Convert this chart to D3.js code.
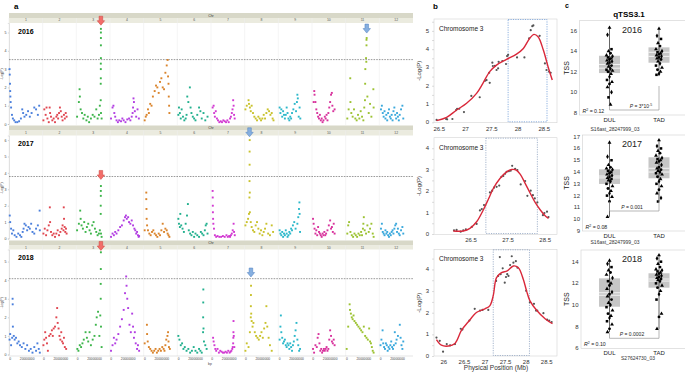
<!DOCTYPE html>
<html><head><meta charset="utf-8">
<script src="https://cdn.jsdelivr.net/npm/d3@7"></script>
<style>body{margin:0;background:#fff}svg{display:block}text{font-family:"Liberation Sans",Arial,sans-serif}</style>
</head><body><svg id="fig" width="685" height="373"></svg>
<script>
// ---- panel a: manhattan data, [position Mb, -log10 P] per chromosome
const chroms = ["1","2","3","4","5","6","7","8","9","10","11","12"];
const chrColors = ["#4a7fdc","#e04650","#3db54b","#b23ee2","#da842c","#22b08e","#d23ad2","#c9c22c","#2cb8ca","#d8329c","#9cc232","#3aa8dc"];
const mh2016 = [
 [[0.3,3.0],[0.5,2.7],[0.8,2.2],[1,1.8],[1.2,1.5],[1.5,1.2],[2,0.9],[3,0.5],[4,0.3],[5.5,0.2],[7,0.1],[9,0.1],[11,0.15],[13,0.3],[14.5,0.8],[15.5,0.6],[17,0.4],[19,0.5],[21,0.7],[23,0.4],[25,0.6],[28,0.9],[30,0.8],[32,0.5],[33.5,1.0]],
 [[0.5,0.2],[1.5,0.8],[3,0.5],[4,0.9],[5,0.3],[6.5,0.1],[7.5,0.9],[8,0.6],[9,0.4],[10.5,0.2],[12,0.3],[13.5,0.1],[15,0.4],[16,0.5],[17,0.3],[18,0.6],[19,0.9],[20,0.7],[21,0.4],[22,0.2],[23.5,0.5],[24.5,0.3],[25.5,0.6],[26.5,0.4]],
 [[0.5,0.4],[2.5,1.2],[3.3,1.9],[3.6,1.5],[4.5,0.8],[6,0.6],[7.5,0.3],[9,0.5],[11,0.2],[12.5,0.4],[14,0.1],[16,0.3],[18,0.5],[20,0.4],[22,0.8],[23.5,0.3],[25,0.5],[26,1.0],[27,1.3],[27,2.2],[27.1,2.5],[27.1,3.0],[27.1,3.3],[27.2,3.6],[27.2,4.3],[27.2,4.7],[27.2,5.0],[27.2,5.2],[27.3,0.6],[28,0.3]],
 [[0.8,0.3],[2.5,0.9],[3.5,1.0],[4.5,0.6],[5.5,0.4],[7,0.2],[8.5,0.1],[10,0.2],[12,0.15],[13.5,0.3],[15,0.2],[17,0.1],[19,0.25],[21,0.3],[22.5,0.2],[24,0.4],[25,0.6],[25.5,0.9],[26,1.4],[26.5,1.2],[27.5,0.7],[29,0.4],[30.5,0.8],[32,0.3]],
 [[0.8,0.2],[2,0.4],[3,0.5],[4.5,0.8],[5.5,0.6],[7,1.1],[8.5,1.0],[10,1.5],[12,1.8],[13.5,2.1],[15,2.0],[16.5,1.7],[18,2.3],[19.5,2.5],[21,2.0],[22.5,1.9],[24,2.8],[25.5,3.2],[26.5,3.5],[27,2.6],[27.5,2.2],[27.8,1.5],[28.2,1.0],[28.5,0.6]],
 [[0.8,0.5],[1.5,0.9],[2.5,0.6],[3.5,0.3],[4.5,0.8],[6,0.4],[7.5,0.2],[9,0.3],[10,0.5],[10.8,1.5],[12,1.2],[13.7,2.0],[14.5,0.9],[15.5,0.6],[17,0.4],[18.5,0.3],[20,0.2],[22,0.5],[24,0.9],[25.5,0.7],[27,0.3],[29,0.6],[31,0.2],[33.5,0.4]],
 [[1.5,0.9],[2.6,1.0],[3.2,0.6],[4,0.4],[5,0.7],[6.3,0.3],[7.5,0.2],[9,0.1],[10.5,0.15],[12,0.1],[13.5,0.2],[15,0.15],[16.5,0.1],[18,0.2],[19.5,0.1],[21,0.3],[22,0.4],[23,0.6],[23.8,0.8],[24.5,1.3],[25,1.0],[25.5,0.5],[26.2,0.3]],
 [[0.5,0.8],[2,1.0],[4,1.3],[4.5,1.1],[5.5,0.9],[6.5,0.7],[7.5,1.0],[9,0.6],[10.5,0.4],[12,0.3],[13.5,0.2],[15,0.4],[16.5,0.3],[18,0.2],[19.5,0.3],[21,0.5],[22.5,0.3],[24,0.6],[25.5,0.8],[27,0.7],[28.5,0.5],[30,0.6],[31,0.3],[32,0.2]],
 [[1.1,0.9],[2,0.6],[3,0.8],[4,0.4],[5,0.7],[6,0.5],[7,0.3],[8,0.5],[9,0.9],[10,0.6],[11,0.3],[12,0.2],[13,0.4],[14,0.3],[15,0.6],[16.5,0.8],[18,1.1],[19.5,0.7],[20.5,1.2],[21,1.6],[21.5,1.4],[22.5,0.4],[23.5,0.9],[24.3,0.3]],
 [[1.5,1.2],[2.2,1.8],[2.5,1.6],[3.5,1.2],[4.5,0.8],[5.5,0.6],[6.5,0.4],[7.5,0.3],[8.5,0.5],[9.5,0.2],[10.5,0.3],[11.5,0.1],[12.5,0.2],[14,0.4],[15,0.3],[16,0.5],[17,0.2],[18,0.6],[19,0.9],[20,1.2],[21,1.6],[21.9,1.7],[22.5,1.0],[23.5,0.7],[25,0.8]],
 [[1.5,0.3],[3,0.8],[4.8,2.5],[5,1.2],[6,0.6],[7.5,0.4],[9,0.8],[10.5,0.3],[12,0.2],[13.5,0.5],[15,0.3],[16.5,0.7],[18,0.4],[19.5,0.2],[20.5,0.9],[21.3,1.3],[21.5,2.2],[21.7,3.0],[22.5,3.6],[22.8,3.4],[23,4.3],[23,4.6],[23.2,4.7],[24,1.5],[25.5,0.6],[27,1.1],[28.5,0.4],[30.7,1.9],[31,0.9]],
 [[1.5,0.8],[2.5,1.0],[3.5,0.6],[4.5,0.4],[5.5,0.7],[6.5,0.3],[7.5,0.5],[8.5,0.2],[9.5,0.6],[10.5,0.8],[11.5,0.4],[12.5,0.3],[13.5,0.5],[14.5,0.2],[15.5,0.7],[16.5,0.9],[17.5,0.5],[18.5,0.3],[19.5,0.6],[20.5,0.4],[21.5,0.2],[22.5,0.5],[24,0.8],[25.5,1.0],[26.5,0.3]]
];
const mh2017 = [
 [[0.5,1.4],[1,1.0],[2,0.6],[3,0.3],[4.5,0.5],[6,0.2],[8,0.1],[10,0.3],[12,0.2],[13.5,0.1],[15,0.4],[16,0.6],[17,0.9],[18.5,0.8],[20,0.5],[21.5,0.7],[23,0.6],[24.5,0.9],[26,0.4],[28,0.3],[30,0.6],[32,0.8],[34,1.7],[34.2,0.5]],
 [[0.5,0.3],[2,0.6],[3.5,0.2],[5,0.5],[6.5,0.8],[7.7,1.9],[8,1.0],[9,0.4],[10.5,0.2],[12,0.3],[13.5,0.1],[15,0.3],[16.5,0.5],[18,0.2],[19.5,0.4],[21,0.6],[22,0.8],[23,0.5],[23.3,1.9],[23.6,1.2],[24.3,0.7],[25,0.4],[25.8,0.6],[26.5,0.3]],
 [[0.5,0.5],[2.5,0.9],[4,1.7],[4.5,1.2],[5.5,0.8],[7,0.6],[8.5,1.0],[10,0.4],[11.5,0.7],[13,0.9],[14.5,0.5],[16,0.3],[17.5,0.8],[19,1.0],[20.5,0.6],[22,0.4],[23.5,0.2],[25,0.3],[26,0.5],[27,1.5],[27,2.0],[27.1,2.6],[27.1,2.9],[27.2,3.2],[27.3,0.3],[28,0.1]],
 [[0.8,0.1],[2.5,0.3],[4,0.2],[5.5,0.4],[7,0.3],[9,0.5],[11,0.7],[13,0.8],[15,1.1],[16.5,1.3],[17.5,1.4],[18.5,1.2],[20,1.3],[21,1.0],[22.5,0.9],[24,1.1],[25.5,0.8],[27,0.6],[28,0.5],[29,0.3],[30,0.4],[31,0.2],[31.8,0.1],[32.3,0.15]],
 [[0.8,0.5],[2.6,2.8],[2.6,2.4],[2.8,1.8],[3,1.2],[3.5,0.8],[4.5,0.5],[6,0.3],[7.5,0.2],[9,0.4],[10.5,0.5],[12,0.3],[13.5,0.2],[15,0.1],[16.5,0.3],[18,0.2],[19.5,0.5],[21,0.9],[22.5,0.4],[24,0.6],[25.5,0.5],[26.5,0.3],[27.5,0.2],[28.5,0.1]],
 [[0.8,1.2],[1.5,0.9],[2.5,0.7],[3,1.5],[4,0.8],[5.5,0.6],[7,0.4],[9,0.9],[10.5,1.4],[11.5,2.1],[12.5,0.5],[14,0.3],[15.5,0.2],[17,0.4],[18.5,0.1],[20,0.3],[22,0.2],[24,0.1],[26,0.4],[27.5,0.3],[29,0.2],[30.5,0.5],[31.5,0.8],[32.5,0.9],[33.5,0.3]],
 [[1.5,2.9],[1.6,2.5],[1.7,2.0],[1.8,1.6],[2,1.2],[2.3,0.9],[3,0.6],[4,0.2],[5.5,0.1],[7,0.15],[9,0.1],[11,0.1],[13,0.15],[15,0.1],[17,0.2],[18.5,0.1],[20,0.15],[21,0.1],[22,0.2],[23,0.3],[24,0.5],[25,0.9],[25.5,0.4],[26.3,0.2]],
 [[0.5,0.8],[2,1.0],[3.5,1.2],[4.5,1.5],[5,2.5],[5.1,3.5],[5.2,4.5],[5.2,5.3],[5.3,6.0],[5.4,2.8],[5.5,1.6],[6.5,1.0],[7.5,0.7],[9,0.5],[10.5,0.4],[12,0.8],[13.5,1.0],[15,0.6],[16.5,0.3],[18,0.5],[19.5,0.2],[21,0.4],[22.5,0.6],[24,0.9],[26,0.3],[28,0.2],[30,0.8],[31.5,0.4]],
 [[1.1,0.5],[2,0.3],[3,0.2],[4,0.4],[5,0.1],[6,0.3],[7,0.2],[8,0.5],[9,0.3],[10,0.1],[11,0.2],[12,0.4],[13,0.3],[14,0.6],[15,0.5],[16,0.8],[17.5,1.0],[19,0.6],[21,0.9],[22,1.3],[22.8,1.8],[23.3,2.2],[23.5,1.5],[24,0.4]],
 [[0.8,1.2],[1.5,0.9],[2.5,0.6],[3.5,0.3],[4.5,0.5],[5.5,0.2],[6.5,0.7],[7.5,0.4],[8.5,0.3],[9.5,0.2],[10.5,0.1],[11.5,0.3],[12.5,0.2],[13.5,0.4],[14.5,0.2],[15.5,0.3],[17,0.5],[18.5,0.8],[20,1.1],[21,0.6],[22,0.7],[23,0.4],[24,0.9],[25,0.3]],
 [[1.5,0.3],[2.5,0.8],[3.5,1.0],[5,0.4],[6.5,0.2],[8,0.1],[9.5,0.3],[11,0.2],[12.5,0.1],[14,0.3],[15.5,0.2],[17,0.4],[18,0.2],[19,0.6],[19.5,0.9],[20,1.3],[21,0.5],[22.5,0.3],[24,0.8],[25.5,0.4],[27,0.6],[28.5,0.9],[30,0.3],[31,0.1]],
 [[1.5,0.6],[2.5,0.9],[3.5,0.4],[4.5,0.3],[5.5,0.2],[6.5,0.5],[7.5,0.3],[8.5,0.4],[9.5,0.2],[10.5,0.1],[11.5,0.3],[12.5,0.2],[13.5,0.4],[14.5,0.5],[15.5,0.3],[16.5,0.6],[17.5,0.8],[18.5,0.9],[19.5,0.4],[20.5,0.6],[21.5,0.3],[22.5,0.2],[24,0.5],[25.5,0.7],[26.5,0.3]]
];
const mh2018 = [
 [[0.3,0.8],[1,1.1],[2,0.5],[3.2,0.9],[3.7,3.0],[3.8,2.7],[4,1.5],[5,1.0],[6,0.8],[7.5,0.9],[9,0.6],[10.5,0.7],[12,0.5],[14,0.4],[16,0.6],[18,0.3],[20,0.5],[22,0.2],[24,0.3],[26,0.1],[28,0.4],[30,0.2],[31.5,0.6],[33,0.3],[34.2,0.1]],
 [[0.5,0.5],[1.5,0.8],[2.5,1.2],[3.5,0.9],[4.5,0.6],[5.5,0.2],[7,1.0],[8.5,1.1],[10,1.3],[11,1.0],[12,1.4],[13.5,1.5],[15,2.0],[15.9,2.5],[16.5,1.7],[17.5,1.4],[18.5,1.0],[19.5,0.8],[20.5,1.2],[21.5,0.7],[22.5,0.6],[23.5,0.9],[24.5,0.4],[26,0.3]],
 [[0.8,0.3],[2,0.2],[3.5,0.5],[5,0.4],[6.5,0.6],[8,0.8],[10,1.2],[11.5,0.9],[13,0.7],[14.5,1.2],[16,0.5],[18,0.8],[20,1.0],[21.5,1.6],[22.5,2.0],[24,2.3],[25.5,1.0],[26.5,2.1],[27,3.0],[27,3.8],[27.1,4.6],[27.2,5.5],[27.3,1.5],[28,0.4]],
 [[0.8,0.2],[2.5,0.5],[4,0.9],[5.5,0.6],[7,0.8],[9,1.1],[11,1.5],[13,1.9],[15,2.4],[16.5,3.3],[17.8,4.2],[18.2,3.7],[19,3.0],[20,2.5],[21.5,1.6],[23,1.2],[24.5,2.2],[25.5,1.5],[26.5,0.9],[27.5,1.2],[28.5,0.6],[30,0.3],[31,0.5],[32.3,0.2]],
 [[0.8,0.6],[3.3,1.6],[3.5,1.1],[4.2,0.7],[5.5,0.4],[7,0.3],[8.5,0.2],[10,0.1],[11.5,0.2],[13,0.3],[14.5,0.1],[16,0.2],[17.5,0.3],[19,0.2],[20.5,0.4],[22,0.3],[23,0.2],[24,0.5],[25,0.8],[26.3,1.0],[27,1.2],[27.5,0.7],[28,0.4],[29,0.3]],
 [[0.8,1.0],[2,0.8],[3.5,0.5],[5,0.6],[6.5,0.3],[8,0.4],[10,0.2],[12,0.3],[14,0.1],[16,0.2],[18,0.4],[20,0.2],[22,0.1],[24,0.3],[25.5,0.2],[27,0.1],[28.5,1.2],[28.6,2.0],[28.7,2.8],[28.8,3.5],[29,1.4],[29.5,0.7],[31,0.5],[32.5,0.3]],
 [[2,0.9],[2.6,0.7],[3.5,0.5],[4.5,0.3],[5.5,0.2],[7,0.3],[8.5,0.1],[10,0.2],[11.5,0.15],[13,0.1],[14.5,0.1],[16,0.15],[17.5,0.1],[19,0.2],[20.5,0.1],[21.5,0.15],[22.5,0.2],[23.5,0.3],[24,0.4],[24.5,0.6],[24.7,0.9],[24.8,1.2],[24.9,1.8],[25.2,1.0],[25.8,0.4]],
 [[0.5,0.2],[2,0.6],[4,0.4],[5.5,1.2],[6.5,2.0],[6.6,2.6],[6.7,3.2],[6.8,3.7],[7,2.2],[7.5,1.8],[8.5,1.5],[9.5,1.7],[11,1.2],[12.5,1.0],[14,0.9],[15.5,0.8],[17,1.0],[18.5,1.2],[20,0.9],[21.5,1.4],[23,1.7],[24,2.6],[25,1.5],[26.5,0.9],[28,0.5],[30,0.2]],
 [[1.1,0.8],[2,1.5],[2.5,2.1],[3,1.2],[4,0.9],[5,0.6],[6,0.7],[7,0.8],[8,0.5],[9,0.4],[10,0.6],[11,0.5],[12,0.3],[13,0.6],[14,0.4],[15,0.2],[16,0.5],[17,0.7],[18,1.0],[19,1.3],[20,1.7],[21,0.8],[22,0.5],[23,0.2],[24,0.3]],
 [[0.8,0.3],[2,0.1],[3.5,0.5],[5,0.4],[6,0.9],[7,1.1],[8,0.6],[9,0.2],[10,0.3],[11,0.1],[12,0.2],[13,0.3],[14,0.2],[15,0.3],[16,0.4],[17,0.2],[18,0.3],[19,0.8],[20,1.3],[21,1.0],[22,0.7],[23,0.6],[24,0.8],[25,0.5]],
 [[0.8,0.3],[2.5,1.5],[4.1,2.7],[4.5,2.4],[5.5,2.2],[6.5,2.0],[7.5,1.9],[8.5,2.1],[9.5,1.8],[11,1.7],[12.5,1.6],[14,1.5],[15.5,1.4],[17,1.3],[18.5,1.2],[20,1.5],[21.5,1.0],[23,0.9],[24.5,0.8],[26,1.4],[27,0.7],[28,0.6],[29,0.4],[30,0.2],[31,0.1]],
 [[1,0.5],[2,0.8],[3.3,1.3],[4,0.6],[5,0.4],[6,0.3],[7,0.6],[8,0.5],[9,0.2],[10,0.4],[11,0.3],[12,0.5],[13,0.7],[14,0.4],[15,0.3],[16,0.5],[17,1.2],[18,0.6],[19,0.8],[20.5,1.0],[22.6,1.6],[23.5,0.9],[24.5,0.5],[25.5,0.3],[26.5,0.7]]
];
const mhYears = ["2016","2017","2018"];
const mhThresholds = [3.52, 3.78, 4.08];
const mhYTicks = [[0,1,2,3,4,5],[0,1,2,3,4,5,6],[0,1,2,3,4,5]];
const mhXTicks = [0, 20000000];
// arrows: [year index, chromosome, Mb, tip value, colour]
const mhArrows = [[0,"3",27.2,5.4,"red"],[0,"11",23.3,4.97,"blue"],[1,"3",27.2,3.6,"red"],[1,"8",5.1,6.2,"blue"],[2,"3",27.2,5.6,"red"],[2,"8",6.7,4.17,"blue"]];

// ---- panel b: chromosome 3 fine mapping, [Mb, -log10 P]
const bPts2016 = [[26.45,0.13],[26.63,0.18],[26.65,0.16],[26.75,0.18],[26.82,0.67],[26.84,0.74],[26.88,0.74],[26.97,0.56],[27.11,1.44],[27.27,1.37],[27.37,2.27],[27.40,2.31],[27.45,2.71],[27.46,2.16],[27.51,3.26],[27.52,3.08],[27.56,3.09],[27.59,2.86],[27.62,2.95],[27.63,3.31],[27.70,3.35],[27.77,3.19],[27.79,3.62],[27.81,3.69],[27.98,3.55],[28.12,3.55],[28.21,4.59],[28.24,5.04],[28.27,5.26],[28.29,5.30],[28.41,4.73],[28.51,3.22],[28.54,2.86],[28.59,2.77],[28.62,2.71]];
const bFit2016 = [[26.45,0.09],[26.64,0.27],[26.83,0.67],[27.02,1.04],[27.21,1.58],[27.33,2.13],[27.46,2.77],[27.59,3.13],[27.78,3.44],[27.97,3.73],[28.10,4.04],[28.22,4.59],[28.30,4.81],[28.38,4.68],[28.48,3.95],[28.57,3.04],[28.65,2.31]];
const bPts2017 = [[26.04,0.17],[26.11,0.19],[26.22,0.11],[26.29,0.17],[26.36,0.22],[26.52,0.33],[26.65,0.47],[26.74,1.10],[26.79,1.16],[26.85,1.35],[27.01,1.94],[27.07,2.02],[27.12,2.16],[27.19,2.20],[27.26,2.26],[27.32,2.67],[27.37,2.71],[27.42,2.81],[27.46,2.90],[27.52,2.93],[27.57,2.95],[27.61,3.18],[27.69,3.04],[27.75,2.98],[27.84,2.31],[27.96,2.47],[28.02,1.78],[28.11,2.02],[28.17,1.81],[28.22,1.66],[28.29,1.47],[28.44,0.88],[28.48,0.98],[28.55,1.04],[28.59,0.79]];
const bFit2017 = [[26.02,0.14],[26.29,0.14],[26.47,0.26],[26.65,0.57],[26.83,1.12],[26.97,1.63],[27.10,2.12],[27.28,2.59],[27.46,2.90],[27.60,3.01],[27.72,2.98],[27.83,2.78],[27.96,2.36],[28.10,1.89],[28.23,1.47],[28.37,1.12],[28.50,0.85],[28.59,0.73]];
const bPts2018 = [[25.82,0.85],[25.90,0.70],[25.98,0.20],[26.07,0.55],[26.15,0.49],[26.27,0.55],[26.41,1.26],[26.45,1.22],[26.62,1.64],[26.75,2.18],[26.88,2.10],[26.94,2.13],[27.08,2.13],[27.27,3.47],[27.32,3.70],[27.36,4.57],[27.38,3.78],[27.43,4.05],[27.48,3.39],[27.51,3.65],[27.54,3.78],[27.57,3.70],[27.61,4.20],[27.65,4.61],[27.69,4.31],[27.75,4.38],[27.79,4.08],[28.00,3.01],[28.09,2.48],[28.19,2.41],[28.24,2.10],[28.27,2.10],[28.42,1.98],[28.51,1.68],[28.56,1.64],[28.62,1.57]];
const bFit2018 = [[25.82,0.76],[25.94,0.50],[26.11,0.46],[26.27,0.58],[26.43,1.19],[26.59,1.57],[26.80,2.02],[27.00,2.18],[27.12,2.33],[27.20,2.79],[27.28,3.62],[27.40,3.85],[27.54,3.93],[27.69,4.16],[27.81,4.08],[27.93,3.55],[28.01,3.01],[28.09,2.56],[28.26,2.10],[28.46,1.72],[28.64,1.49]];
const bIntervals = [[27.81,28.55],[26.90,28.29],[27.20,28.08]];
const bXTicks = [[26.5,27,27.5,28,28.5],[26.5,27.5,28.5],[26,26.5,27,27.5,28,28.5]];
const bYTicks = [[0,1,2,3,4,5],[0,1,2,3,4],[0,1,2,3,4]];

// ---- panel c: TSS by allele
const cGroups = ["DUL","TAD"];
const cDul2016 = [16.3,15.6,14.2,14.0,13.8,13.6,13.5,13.4,13.3,13.2,13.1,13.0,12.9,12.8,12.6,12.5,12.3,12.2,12.1,12.0,11.8,11.5,11.2,11.0,10.8,10.5,10.0,9.5,8.8];
const cTad2016 = [16.2,15.5,15.2,14.8,14.5,14.2,14.0,13.9,13.8,13.7,13.6,13.5,13.4,13.3,13.2,13.0,12.8,12.6,12.4,12.2,12.0,11.8,11.7];
const cDul2017 = [16.5,15.3,15.0,14.6,14.4,14.3,14.2,14.1,14.0,13.9,13.8,13.7,13.6,13.5,13.4,13.3,13.2,13.0,12.8,12.6,12.4,12.2,12.0,11.9,11.5,10.2];
const cTad2017 = [16.7,16.2,16.0,15.8,15.6,15.4,15.2,15.1,15.0,14.9,14.8,14.6,14.4,14.3,14.2,14.1,14.0,13.9,13.8,13.6,13.4,13.2,13.0,12.8,12.5,12.2,11.8,11.5];
const cDul2018 = [14.1,13.8,13.5,13.2,13.0,12.8,12.5,12.2,12.0,11.8,11.5,11.2,11.0,10.8,10.5,10.2,10.0,9.8,9.5,9.2,9.0,8.8,8.5,8.2,7.8,7.5];
const cTad2018 = [14.6,14.3,14.0,13.8,13.5,13.3,13.2,13.1,13.0,12.9,12.8,12.7,12.6,12.5,12.4,12.3,12.2,12.0,11.8,11.6,11.3,11.0,10.5,9.2,8.9,7.8];
// [q1, median, mean, q3]
const cBoxes = [[[11.87,12.71,12.35,13.56],[12.88,13.5,13.9,14.38]],[[12.99,13.66,13.5,14.23],[13.47,14.32,14.0,15.25]],[[9.84,11.13,10.9,12.46],[11.6,12.21,12.4,12.93]]];
const cPvals = ["P = 3*10","P = 0.001","P = 0.0002"];
const cR2 = ["0.12","0.08","0.10"];
const cMarkers = ["S16ast_28247999_03","S16ast_28247999_03","S27624730_03"];
const cYTicks = [[8,10,12,14,16],[9,10,11,12,13,14,15,16,17],[6,8,10,12,14]];

const svg = d3.select("#fig");

// ================= panel a =================
const mhData = [mh2016, mh2017, mh2018];
const mhLayout = [
  {strip: 13, plotTop: 23, plotBottom: 125, yTop: 5.52, zeroY: 124},
  {strip: 125.5, plotTop: 135.5, plotBottom: 240.5, yTop: 6.28, zeroY: 238.5},
  {strip: 240.5, plotTop: 249.5, plotBottom: 356, yTop: 5.65, zeroY: 354.5}
];
const chrBand = d3.scaleBand().domain(chroms).range([9, 413]);
const inChr = d3.scaleLinear().domain([0, 37.4]).range([0.3, chrBand.bandwidth()]);
const chrColor = d3.scaleOrdinal(chroms, chrColors);

svg.append("text").attr("x", 14).attr("y", 9).attr("font-size", 8).attr("font-weight", "bold").text("a");

mhLayout.forEach((L, yi) => {
  const g = svg.append("g");
  const y = d3.scaleLinear().domain([0, L.yTop]).range([L.zeroY, L.plotTop]);
  // strips
  g.append("rect").attr("x", 9).attr("y", L.strip).attr("width", 404).attr("height", 5).attr("fill", "#d8d8c8");
  g.append("text").attr("x", 211).attr("y", L.strip + 3.8).attr("font-size", 3.4).attr("text-anchor", "middle").attr("fill", "#333").text("Chr");
  g.append("rect").attr("x", 9).attr("y", L.strip + 5).attr("width", 404).attr("height", L.plotTop - L.strip - 5).attr("fill", "#ebebdf");
  chroms.forEach(c => {
    const x0 = chrBand(c);
    g.append("line").attr("x1", x0).attr("x2", x0).attr("y1", L.strip + 5).attr("y2", L.plotBottom).attr("stroke", "#eeeeee").attr("stroke-width", 0.6);
    g.append("text").attr("x", x0 + chrBand.bandwidth() / 2).attr("y", L.strip + 8.3).attr("font-size", 3.4)
      .attr("text-anchor", "middle").attr("fill", "#555").text(c);
  });
  // y axis
  const ya = g.append("g").attr("transform", "translate(9,0)")
    .call(d3.axisLeft(y).tickValues(mhYTicks[yi]).tickSize(1.2).tickFormat(d3.format("d")));
  ya.select(".domain").attr("stroke", "#bbb").attr("stroke-width", 0.4);
  ya.selectAll(".tick line").attr("stroke", "#999").attr("stroke-width", 0.4);
  ya.selectAll("text").attr("font-size", 3.6).attr("fill", "#444").attr("x", -2.5);
  g.append("text").attr("transform", `translate(3,${(L.plotTop + L.plotBottom) / 2}) rotate(-90)`)
    .attr("font-size", 3.4).attr("text-anchor", "middle").attr("fill", "#444").text("-Log(P)");
  // threshold
  g.append("line").attr("x1", 9).attr("x2", 413).attr("y1", y(mhThresholds[yi])).attr("y2", y(mhThresholds[yi]))
    .attr("stroke", "#555").attr("stroke-width", 0.6).attr("stroke-dasharray", "1.6,1.1");
  // points
  mhData[yi].forEach((pts, ci) => {
    const c = chroms[ci];
    g.append("g").selectAll("rect").data(pts).join("rect")
      .attr("x", d => chrBand(c) + inChr(d[0]) - 0.95)
      .attr("y", d => y(d[1]) - 0.95)
      .attr("width", 1.9).attr("height", 1.9)
      .attr("fill", chrColor(c));
  });
  g.append("text").attr("x", 18).attr("y", L.plotTop + 10.5).attr("font-size", 7).attr("font-weight", "bold").text(mhYears[yi]);
  // arrows
  mhArrows.filter(a => a[0] === yi).forEach(a => {
    const cx = chrBand(a[1]) + inChr(a[2]);
    const tip = y(a[3]);
    const fill = a[4] === "red" ? "#f36d69" : "#86afe0";
    const stroke = a[4] === "red" ? "#c8413a" : "#4f7fbf";
    const p = `M${cx - 1.8},${tip - 9} h3.6 v4.5 h1.9 L${cx},${tip} L${cx - 3.7},${tip - 4.5} h1.9 Z`;
    g.append("path").attr("d", p).attr("fill", fill).attr("stroke", stroke).attr("stroke-width", 0.5);
  });
  if (yi === 2) {
    g.append("line").attr("x1", 9).attr("x2", 413).attr("y1", L.plotBottom).attr("y2", L.plotBottom).attr("stroke", "#bbb").attr("stroke-width", 0.4);
    chroms.forEach(c => {
      mhXTicks.forEach(t => {
        g.append("text").attr("x", chrBand(c) + inChr(t / 1e6)).attr("y", L.plotBottom + 3.8)
          .attr("font-size", 3.3).attr("text-anchor", t === 0 ? "start" : "middle").attr("fill", "#444").text(t);
      });
    });
    g.append("text").attr("x", 210).attr("y", L.plotBottom + 9).attr("font-size", 3.4).attr("text-anchor", "middle").attr("fill", "#444").text("bp");
  }
});

// ================= panel b =================
svg.append("text").attr("x", 433).attr("y", 9).attr("font-size", 8).attr("font-weight", "bold").text("b");
const bPts = [bPts2016, bPts2017, bPts2018];
const bFit = [bFit2016, bFit2017, bFit2018];
const bLayout = [
  {top: 19, bottom: 122.7, zeroY: 122.3, yTop: 5.65, xDom: [26.4, 28.74]},
  {top: 137.7, bottom: 234.3, zeroY: 234, yTop: 4.49, xDom: [25.5, 28.82]},
  {top: 249.3, bottom: 356, zeroY: 356, yTop: 4.93, xDom: [25.76, 28.75]}
];
bLayout.forEach((L, i) => {
  const g = svg.append("g");
  const x = d3.scaleLinear().domain(L.xDom).range([434, 557]);
  const y = d3.scaleLinear().domain([0, L.yTop]).range([L.zeroY, L.top]);
  g.append("rect").attr("x", 434).attr("y", L.top).attr("width", 123).attr("height", L.bottom - L.top)
    .attr("fill", "none").attr("stroke", "#d4d4d4").attr("stroke-width", 0.6);
  const ya = g.append("g").attr("transform", "translate(434,0)")
    .call(d3.axisLeft(y).tickValues(d3.range(0, L.yTop, 0.5)).tickSize(2).tickFormat(""));
  ya.select(".domain").remove();
  ya.selectAll(".tick line").attr("stroke", "#bbb").attr("stroke-width", 0.5);
  g.selectAll(".ylab").data(bYTicks[i]).join("text").attr("x", 429).attr("y", d => y(d) + 2)
    .attr("font-size", 6).attr("text-anchor", "end").attr("fill", "#333").text(d => d);
  g.append("text").attr("transform", `translate(421,${(L.top + L.bottom) / 2}) rotate(-90)`)
    .attr("font-size", 6).attr("text-anchor", "middle").attr("fill", "#333").text("-Log(P)");
  g.selectAll(".xlab").data(bXTicks[i]).join("text").attr("x", d => x(d)).attr("y", L.bottom + 8)
    .attr("font-size", 6).attr("text-anchor", "middle").attr("fill", "#333").text(d => d);
  const iv = bIntervals[i];
  g.append("rect").attr("x", x(iv[0])).attr("y", L.top + 0.5).attr("width", x(iv[1]) - x(iv[0])).attr("height", y(0) - L.top - 1)
    .attr("fill", "none").attr("stroke", i === 0 ? "#5d8fd2" : "#7f97b8").attr("stroke-width", 0.7).attr("stroke-dasharray", "1.2,1.2");
  g.append("g").selectAll("circle").data(bPts[i]).join("circle")
    .attr("cx", d => x(d[0])).attr("cy", d => y(d[1])).attr("r", 1.1).attr("fill", "#555");
  g.append("path").datum(bFit[i])
    .attr("d", d3.line().x(d => x(d[0])).y(d => y(d[1])).curve(d3.curveCatmullRom.alpha(0.5)))
    .attr("fill", "none").attr("stroke", "#d9283a").attr("stroke-width", 1.4);
  g.append("text").attr("x", 439).attr("y", L.top + 12).attr("font-size", 6.5).attr("fill", "#222").text("Chromosome 3");
});
svg.append("text").attr("x", 496).attr("y", 370).attr("font-size", 6.5).attr("text-anchor", "middle").attr("fill", "#333").text("Physical Position (Mb)");

// ================= panel c =================
svg.append("text").attr("x", 565).attr("y", 8).attr("font-size", 7).attr("font-weight", "bold").text("c");
svg.append("text").attr("x", 629).attr("y", 17).attr("font-size", 8).attr("font-weight", "bold").attr("text-anchor", "middle").text("qTSS3.1");
const cVals = [[cDul2016, cTad2016], [cDul2017, cTad2017], [cDul2018, cTad2018]];
const cLayout = [
  {top: 20.7, bottom: 115, left: 579.5, yDom: [7.78, 16.98], pY: 110, dulUp: 106, tadUp: 86, pX: 641, markerX: 615, markerY: 131},
  {top: 135, bottom: 231, left: 582.5, yDom: [9, 17.14], pY: 211, dulUp: 201.7, tadUp: 191.7, pX: 632, markerX: 615, markerY: 244},
  {top: 250, bottom: 348.3, left: 581, yDom: [6, 15.08], pY: 338.3, dulUp: 333.3, tadUp: 327.3, pX: 632, markerX: 638, markerY: 359.5}
];
const jitter = [0, -2, 2, -1, 1, -3, 3, -1.5, 1.5, 0, -2.5, 2.5];
const symbols = [d3.symbolTriangle, d3.symbolDiamond, d3.symbolSquare, d3.symbolTriangle, d3.symbolCircle];
const cx = d3.scalePoint().domain(cGroups).range([609.5, 659]);
cLayout.forEach((L, i) => {
  const g = svg.append("g");
  const y = d3.scaleLinear().domain(L.yDom).range([L.bottom, L.top]);
  g.append("rect").attr("x", L.left).attr("y", L.top).attr("width", 690 - L.left).attr("height", L.bottom - L.top)
    .attr("fill", "none").attr("stroke", "#cfcfcf").attr("stroke-width", 0.6);
  g.selectAll(".yt").data(cYTicks[i]).join("text").attr("x", L.left - 2.5).attr("y", d => y(d) + 2)
    .attr("font-size", 6).attr("text-anchor", "end").attr("fill", "#333").text(d => d);
  g.append("text").attr("transform", `translate(569,${(L.top + L.bottom) / 2}) rotate(-90)`)
    .attr("font-size", 7).attr("text-anchor", "middle").attr("fill", "#222").text("TSS");
  cGroups.forEach((grp, gi) => {
    const b = cBoxes[i][gi];
    const x0 = cx(grp);
    g.append("rect").attr("x", x0 - 10.5).attr("y", y(b[3])).attr("width", 21).attr("height", y(b[0]) - y(b[3]))
      .attr("fill", "#c6c6c6");
    [b[1], b[2]].forEach(v => g.append("line").attr("x1", x0 - 10.5).attr("x2", x0 + 10.5).attr("y1", y(v)).attr("y2", y(v))
      .attr("stroke", "#fff").attr("stroke-width", 0.8));
    const vals = cVals[i][gi];
    g.append("line").attr("x1", x0).attr("x2", x0).attr("y1", y(d3.max(vals))).attr("y2", y(d3.min(vals)))
      .attr("stroke", "#000").attr("stroke-width", 0.6);
    g.append("g").selectAll("path").data(vals).join("path")
      .attr("transform", (d, k) => `translate(${x0 + jitter[k % jitter.length]},${y(d)})`)
      .attr("d", (d, k) => d3.symbol(symbols[k % symbols.length], 6.5)())
      .attr("fill", "#000");
    g.append("text").attr("x", x0).attr("y", L.bottom + 7).attr("font-size", 6).attr("text-anchor", "middle").attr("fill", "#222").text(grp);
  });
  // p-value bracket
  g.append("path").attr("d", `M${cx("DUL")},${L.dulUp} V${L.pY} H${cx("TAD")} V${L.tadUp}`)
    .attr("fill", "none").attr("stroke", "#999").attr("stroke-width", 0.7);
  const pt = g.append("text").attr("x", L.pX).attr("y", L.pY - 2).attr("font-size", 5).attr("text-anchor", "middle").attr("fill", "#222");
  pt.append("tspan").attr("font-style", "italic").text("P");
  pt.append("tspan").text(cPvals[i].slice(1));
  if (i === 0) pt.append("tspan").attr("font-size", 3.5).attr("dy", -2).text("-5");
  const rt = g.append("text").attr("x", L.left + 3).attr("y", L.bottom - 2).attr("font-size", 5.2).attr("fill", "#222");
  rt.append("tspan").attr("font-style", "italic").text("R");
  rt.append("tspan").attr("font-size", 3.5).attr("dy", -2).text("2");
  rt.append("tspan").attr("dy", 2).text(" = " + cR2[i]);
  g.append("text").attr("x", 632).attr("y", L.top + 12).attr("font-size", 9).attr("text-anchor", "middle").attr("fill", "#222").text(mhYears[i]);
  g.append("text").attr("x", L.markerX).attr("y", L.markerY).attr("font-size", 5).attr("text-anchor", "middle").attr("fill", "#333").text(cMarkers[i]);
});
</script></body></html>
